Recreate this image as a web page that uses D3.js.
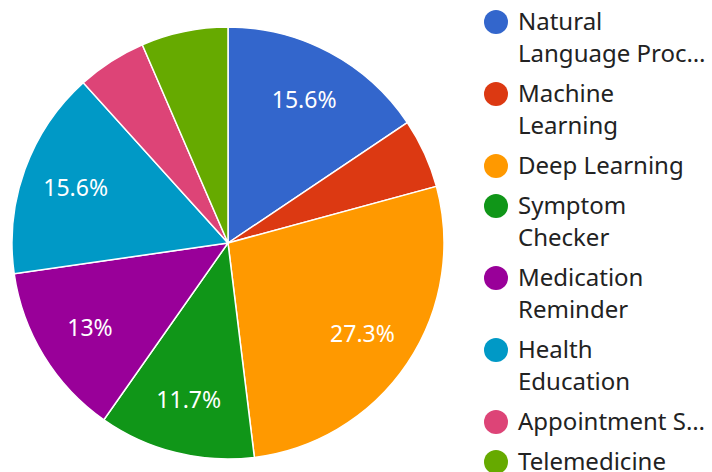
<!DOCTYPE html>
<html><head><meta charset="utf-8">
<script src="https://cdn.jsdelivr.net/npm/d3@7"></script>
<style>body{margin:0;background:#fff}svg{display:block}</style>
</head><body>
<svg id="c" width="712" height="472"></svg>
<script>
const categories = ["Natural Language Processing","Machine Learning","Deep Learning","Symptom Checker","Medication Reminder","Health Education","Appointment Scheduling","Telemedicine"];
const legendLines = [["Natural","Language Proc\u2026"],["Machine","Learning"],["Deep Learning"],["Symptom","Checker"],["Medication","Reminder"],["Health","Education"],["Appointment S\u2026"],["Telemedicine"]];
const values = [12,4,21,9,10,12,4,5];
const colors = ["#3366cc","#dc3912","#ff9900","#109618","#990099","#0099c6","#dd4477","#66aa00"];

const svg = d3.select("#c");
const font = "'Noto Sans', sans-serif";
const cx = 228, cy = 243, r = 216;
const total = d3.sum(values);
const pie = d3.pie().sort(null).value(d => d)(values);
const arc = d3.arc().innerRadius(0).outerRadius(r);
const labelArc = d3.arc().innerRadius(r*0.75).outerRadius(r*0.75);
const g = svg.append("g").attr("transform",`translate(${cx},${cy})`);
g.selectAll("path").data(pie).join("path")
  .attr("d", arc).attr("fill",(d,i)=>colors[i])
  .attr("stroke","#fff").attr("stroke-width",1.5);
g.selectAll("text").data(pie.filter(d => d.value/total > 0.08)).join("text")
  .attr("transform", d => `translate(${labelArc.centroid(d)})`)
  .attr("text-anchor","middle").attr("dy","0.36em")
  .attr("fill","#fff").attr("font-family",font).attr("font-size",23)
  .text(d => { const p = Math.round(d.value/total*1000)/10; return p + "%"; });

// legend
let y = 30;
const lg = svg.append("g");
legendLines.forEach((lines,i) => {
  lg.append("circle").attr("cx",496).attr("cy",y-8).attr("r",12).attr("fill",colors[i]);
  lines.forEach((t,j) => {
    lg.append("text").attr("x",518).attr("y",y + j*32)
      .attr("font-family",font).attr("font-size",24).attr("fill","#222")
      .text(t);
  });
  y += (lines.length-1)*32 + 40;
});
</script>
</body></html>
